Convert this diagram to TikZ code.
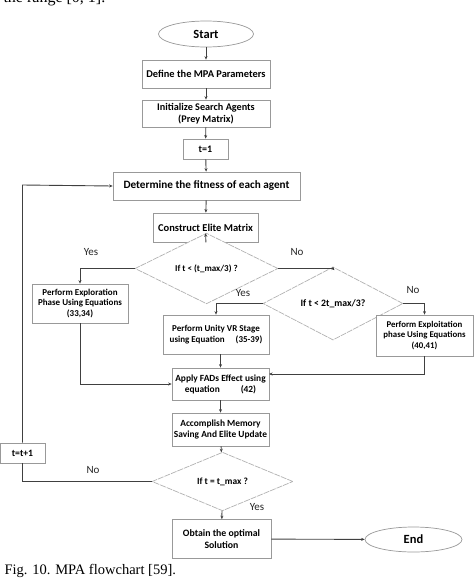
\documentclass[tikz,border=0pt]{standalone}
\usepackage{fontspec}
\setmainfont{Liberation Serif}
\newfontfamily\flow{Carlito}
\usetikzlibrary{shapes.geometric,arrows.meta}
\begin{document}
\begin{tikzpicture}[x=1pt,y=-1pt,
  box/.style={draw=black!40, line width=0.7pt, fill=white, align=center, inner sep=1pt,
    font=\flow\bfseries\fontsize{9}{10.5}\selectfont},
  term/.style={ellipse, draw=black!40, line width=0.7pt, fill=white, inner sep=0pt,
    font=\flow\bfseries\fontsize{12.5}{14}\selectfont},
  dec/.style={diamond, draw=black!30, dashed, dash pattern=on 6pt off 1pt, line width=0.7pt, fill=white, inner sep=0pt, align=center,
    font=\flow\bfseries\fontsize{9.3}{11}\selectfont},
  conn/.style={draw=black!75, line width=0.9pt, -{Stealth[length=3.5pt,width=3pt]}},
  plain/.style={draw=black!75, line width=0.9pt},
  lbl/.style={font=\flow\fontsize{11}{13}\selectfont, text=black!85}
]
\useasboundingbox (0,0) rectangle (474,579);
\node[anchor=base west, font=\fontsize{16}{18}\selectfont] (toptext) at (0,2.5) {the range [0, 1].};
\node[term, minimum width=95pt, minimum height=26pt] (start) at (206,34) {Start};
\node[box, minimum width=128pt, minimum height=28pt, font=\flow\bfseries\fontsize{10.4}{12}\selectfont] (def) at (206,74) {Define the MPA Parameters};
\node[box, minimum width=128pt, minimum height=27pt, font=\flow\bfseries\fontsize{10.2}{12}\selectfont] (init) at (206,113.5) {Initialize Search Agents\\(Prey Matrix)};
\node[box, minimum width=45pt, minimum height=20pt, font=\flow\bfseries\fontsize{10}{12}\selectfont] (t1) at (205.5,149) {t=1};
\node[box, minimum width=187pt, minimum height=28pt, font=\flow\bfseries\fontsize{11.2}{13}\selectfont] (det) at (206.5,186) {Determine the fitness of each agent};
\node[box, minimum width=105pt, minimum height=29pt, font=\flow\bfseries\fontsize{10.5}{12}\selectfont] (elite) at (205.5,227.5) {Construct Elite Matrix};
\node[dec, minimum width=143pt, minimum height=43pt, font=\flow\bfseries\fontsize{9}{11}\selectfont] (d1) at (206.5,268.5) {If t < (t\_max/3) ?};
\node[box, minimum width=96pt, minimum height=39pt] (expl) at (80,303.5) {Perform Exploration\\Phase Using Equations\\(33,34)};
\node[dec, minimum width=140pt, minimum height=43pt, font=\flow\bfseries\fontsize{9.8}{11}\selectfont] (d2) at (333,303.5) {If t < 2t\_max/3?};
\node[box, minimum width=106pt, minimum height=39pt] (unity) at (216,334.5) {Perform Unity VR Stage\\using Equation \quad (35-39)};
\node[box, minimum width=97pt, minimum height=41pt, font=\flow\bfseries\fontsize{8.8}{10.5}\selectfont] (exploit) at (424.5,335.5) {Perform Exploitation\\phase Using Equations\\(40,41)};
\node[box, minimum width=97pt, minimum height=32pt, font=\flow\bfseries\fontsize{9.4}{11}\selectfont] (apply) at (220.5,384) {Apply FADs Effect using\\equation \qquad (42)};
\node[box, minimum width=97pt, minimum height=33pt, font=\flow\bfseries\fontsize{9.4}{11}\selectfont] (acc) at (220.5,429.5) {Accomplish Memory\\Saving And Elite Update};
\node[dec, minimum width=141pt, minimum height=43pt, font=\flow\bfseries\fontsize{9.4}{11}\selectfont] (d3) at (222.5,481.5) {If t = t\_max ?};
\node[box, minimum width=45pt, minimum height=20pt, font=\flow\bfseries\fontsize{9.7}{11}\selectfont] (tt) at (22.5,453) {t=t+1};
\node[box, minimum width=99pt, minimum height=39pt, font=\flow\bfseries\fontsize{9.8}{12}\selectfont] (obtain) at (221.5,539) {Obtain the optimal\\Solution};
\node[term, minimum width=97pt, minimum height=25pt] (end) at (413.5,539.5) {End};
\node[anchor=base west, font=\fontsize{14.5}{17}\selectfont] (cap) at (1,574) {Fig. 10. MPA flowchart [59].};

\coordinate (ae) at (269,374);
\coordinate (ptop) at (22.5,185);

\draw[conn] (start) -- (def);
\draw[conn] (def) -- (init);
\draw[conn] (init) -- (t1);
\draw[conn] (t1) -- (det);
\draw[conn] (det) -- (elite);
\draw[conn] (elite) -- (d1);
\draw[conn] (d1.west) -| (expl.north);
\draw[conn] (d1.east) -| (d2.north);
\draw[conn] (d2.west) -| (unity.north);
\draw[conn] (d2.east) -| (exploit.north);
\draw[conn] (apply.north |- unity.south) -- (apply.north);
\draw[conn] (expl.south) |- (apply.west);
\draw[conn] (exploit.south) |- (ae);
\draw[conn] (apply) -- (acc);
\draw[conn] (acc) -- (d3);
\draw[conn] (d3) -- (obtain);
\draw[conn] (obtain) -- (end);
\draw[plain] (d3.west) -| (tt.south);
\draw[conn] (tt.north) -- (ptop) -- (det.west);

\node[lbl] (y1) at (91,252) {Yes};
\node[lbl] (n1) at (297,252) {No};
\node[lbl] (y2) at (243,293) {Yes};
\node[lbl] (n2) at (413,290) {No};
\node[lbl] (n3) at (93,470) {No};
\node[lbl] (y3) at (257,507) {Yes};
\end{tikzpicture}
\end{document}
